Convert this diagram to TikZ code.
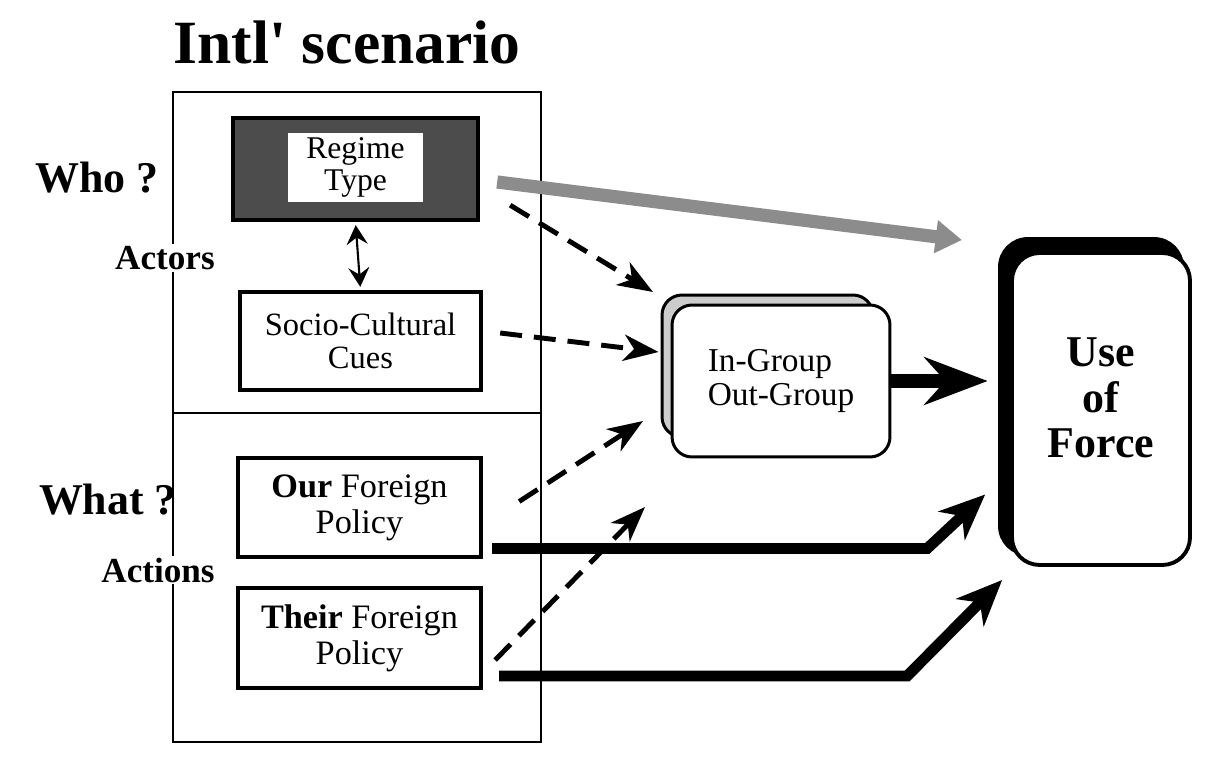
\documentclass[tikz,border=0pt]{standalone}
\usepackage{fontspec}
\setmainfont{Liberation Serif}
\usepackage{tikz}
\usetikzlibrary{arrows.meta}

\begin{document}
\begin{tikzpicture} %Escenario internacional
  [
    x=0.02cm, y=-0.02cm,
    % estilos para no repetir codigo
    box/.style={draw, line width=2.5pt, inner sep=0pt, align=center},
    side/.style={font=\fontsize{25}{28}\selectfont\bfseries},
    tag/.style={fill=white, inner sep=1pt, font=\fontsize{20}{22}\selectfont\bfseries},
    dasharr/.style={line width=2.8pt, dash pattern=on 12.5pt off 6.8pt, -{Stealth[length=20pt,width=15pt,inset=6pt]}},
    solidarr/.style={line width=6.2pt, -{Stealth[length=26pt,width=22pt,inset=8pt]}}
  ]
  \useasboundingbox (0,0) rectangle (1225,770);

  \node[font=\fontsize{35}{40}\selectfont\bfseries] (title) at (347,42) {Intl\textquotesingle\ scenario};
  \node[draw, line width=1.6pt, minimum width=7.36cm, minimum height=13cm] (scen) at (357,417) {};
  \draw[line width=1.6pt] (scen.west |- 0,413) -- (scen.east |- 0,413);

  \node[side] (who) at (97,178) {Who ?};
  \node[side] (what) at (108,500) {What ?};
  \node[tag] (actors) at (165,258) {Actors};
  \node[tag] (actions) at (158,570) {Actions};

  \node[box, fill=black!70, minimum width=4.9cm, minimum height=2.04cm] (regime) at (355.5,169) {};
  \node[fill=white, inner sep=0pt, align=center, minimum width=2.7cm, minimum height=1.38cm,
        font=\fontsize{18}{18}\selectfont] (regimetxt) at (355.5,167.5) {Regime\\Type};
  \node[box, minimum width=4.82cm, minimum height=1.96cm, font=\fontsize{18.5}{19}\selectfont] (socio) at (360.5,341) {Socio-Cultural\\Cues};
  \node[box, minimum width=4.86cm, minimum height=1.98cm, font=\fontsize{19.5}{20.5}\selectfont] (ourfp) at (359.5,507.5) {\textbf{Our} Foreign\\Policy};
  \node[box, minimum width=4.86cm, minimum height=2cm, font=\fontsize{19.5}{20.5}\selectfont] (theirfp) at (359.5,638) {\textbf{Their} Foreign\\Policy};

  \node[draw, line width=1.7pt, fill=black!20, rounded corners=0.4cm, minimum width=4.22cm, minimum height=2.84cm] (groupbk) at (767.5,366) {};
  \node[draw, line width=1.7pt, fill=white, rounded corners=0.4cm, minimum width=4.36cm, minimum height=3.04cm,
        align=left, font=\fontsize{19}{19.5}\selectfont] (group) at (781,381) {In-Group\\Out-Group};

  \node[fill=black, rounded corners=0.6cm, minimum width=3.72cm, minimum height=6.38cm] (forcebk) at (1091,396.5) {};
  \node[draw, line width=2.2pt, fill=white, rounded corners=0.55cm, minimum width=3.56cm, minimum height=6.24cm] (force) at (1101,409) {};
  \node[align=center, font=\fontsize{25}{26}\selectfont\bfseries] (forcetxt) at (1101,398) {Use\\of\\Force};

  \coordinate (t0) at (962,240);
  \coordinate (t1) at (653,292);
  \coordinate (t3) at (643,421);
  \coordinate (t4) at (645,507);

  \draw[black!45, line width=7.5pt, -{Triangle[length=15pt,width=18pt]}] ([shift={(17,13)}]regime.east) -- (t0);
  \draw[line width=1.2pt, {Stealth[length=11pt,width=12pt,inset=4pt]}-{Stealth[length=11pt,width=12pt,inset=4pt]},
        shorten <=1.7pt, shorten >=1.7pt] (regime.south) -- (socio.north);
  \draw[dasharr] ([shift={(30,-17)}]regime.south east) -- (t1);
  \draw[dasharr] ([shift={(17,-8)}]socio.east) -- ([shift={(-2,-14)}]groupbk.west);
  \draw[dasharr] ([shift={(36,-6)}]ourfp.east) -- (t3);
  \draw[dasharr] ([shift={(12,22)}]theirfp.east) -- (t4);

  \draw[line width=8.5pt, -{Stealth[length=36pt,width=27pt,inset=12pt]}, shorten >=5.7pt] (group.east) -- (group.east -| forcebk.west);
  \draw[solidarr] ([shift={(9,41)}]ourfp.east) -- ++(435,0) -- ++(58,-54);
  \draw[solidarr] ([shift={(16,38)}]theirfp.east) -- ++(408,0) -- ++(95,-96);
\end{tikzpicture}
\end{document}
